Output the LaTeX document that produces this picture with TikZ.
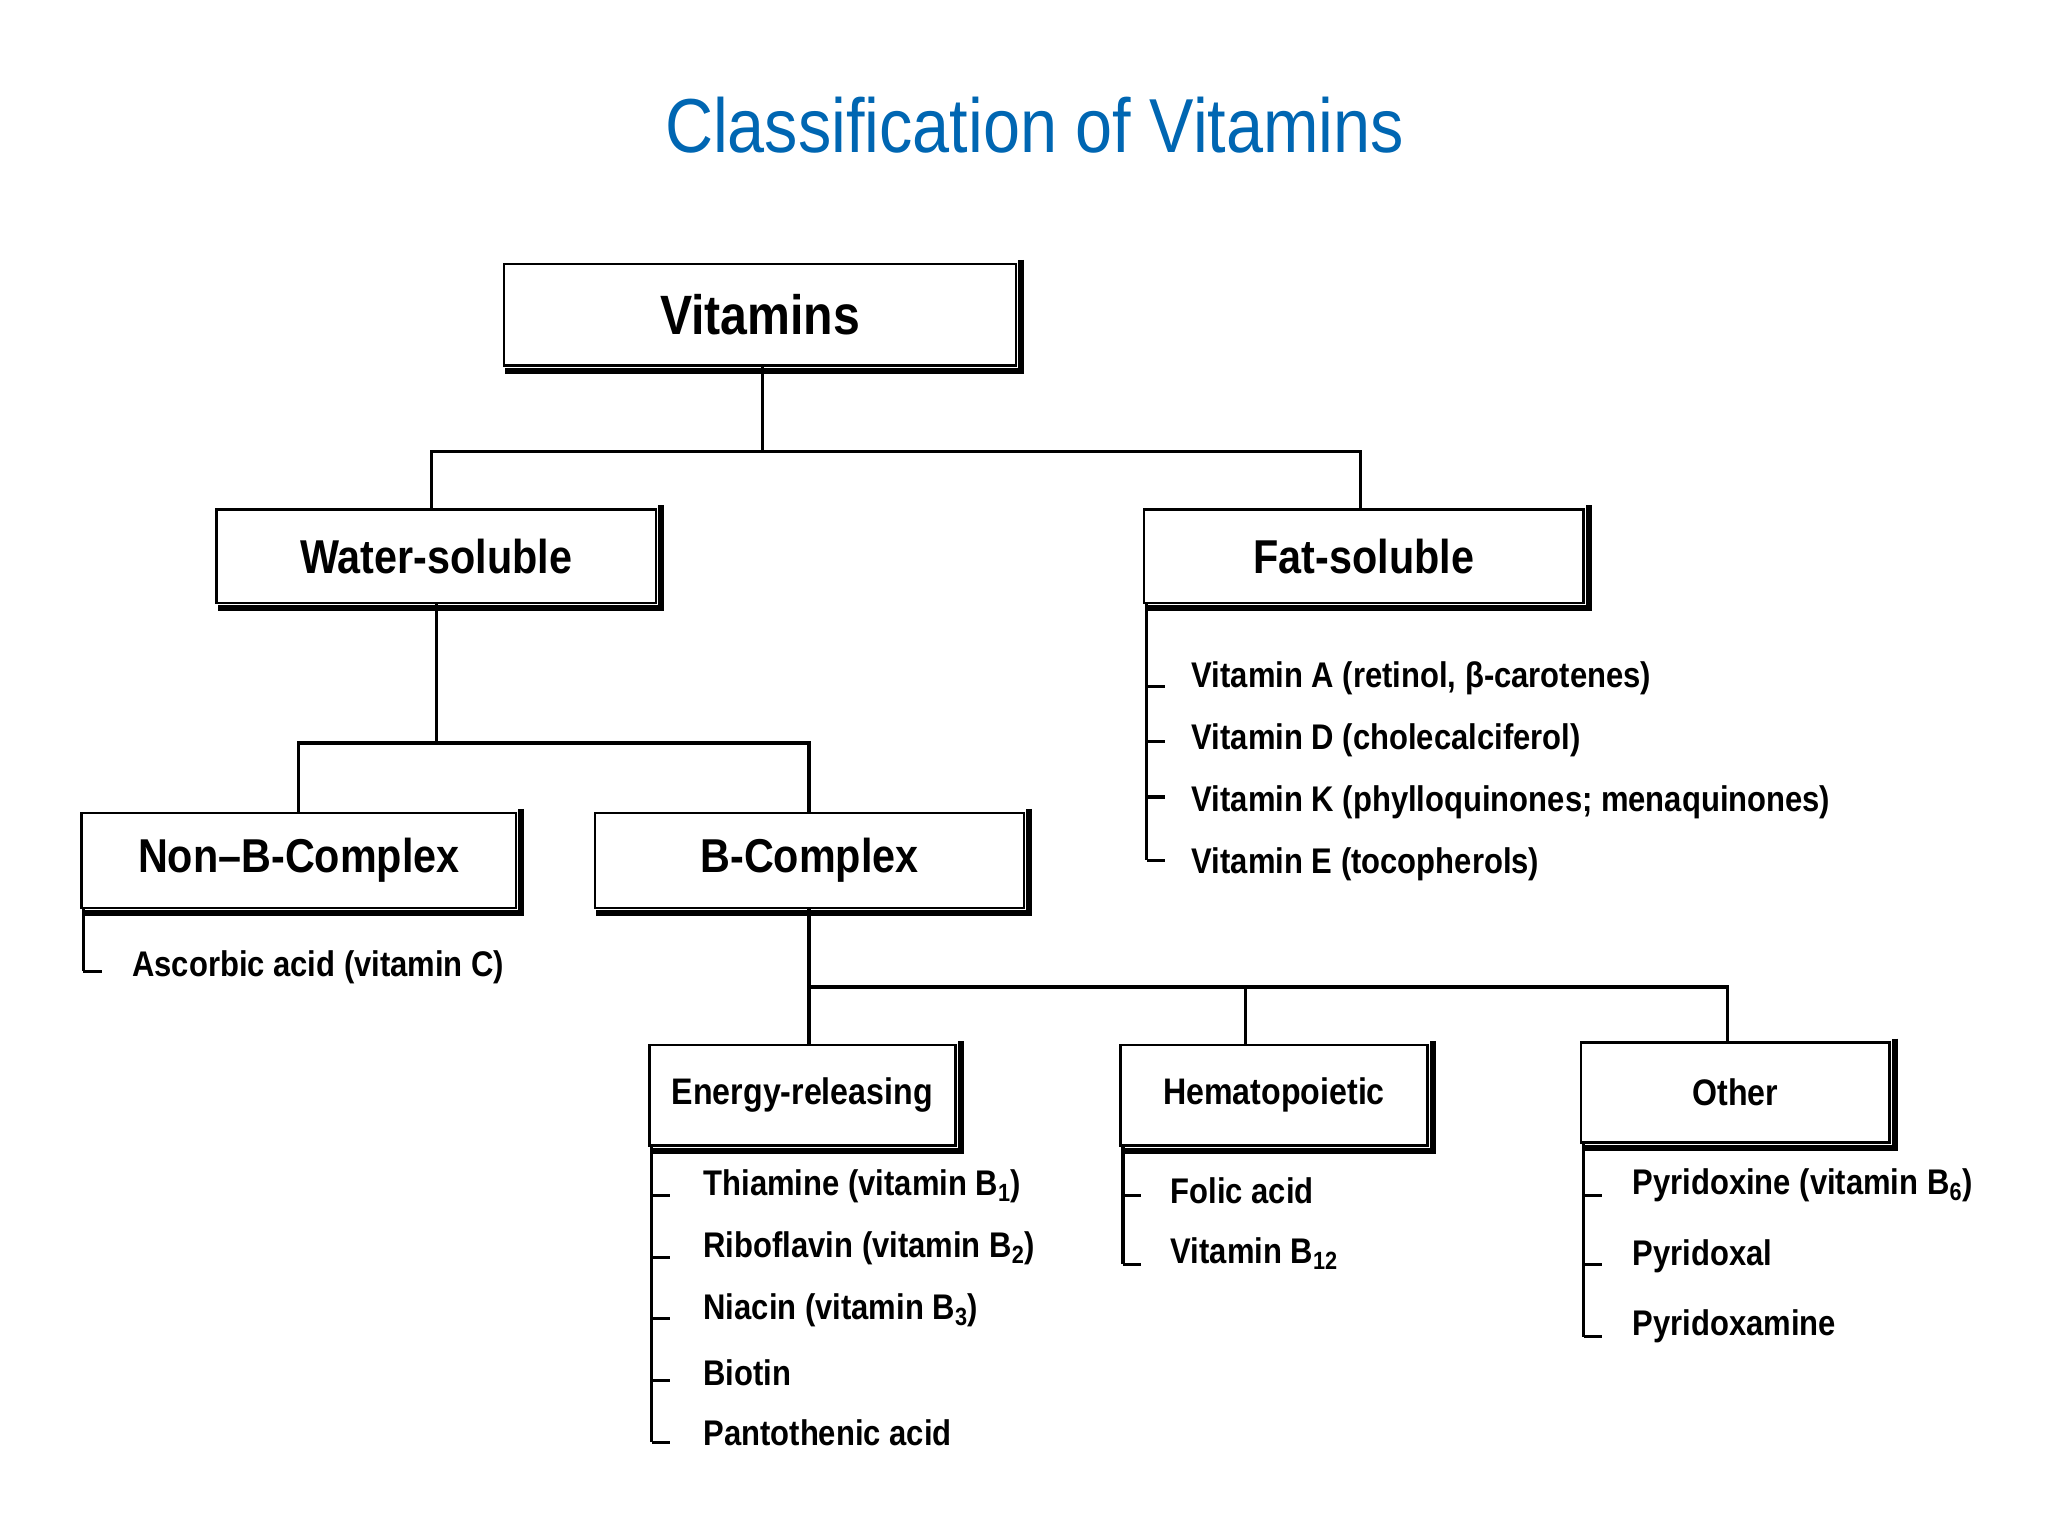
\documentclass[tikz,border=0pt]{standalone}
\usepackage{fontspec}
\setmainfont{Liberation Sans}[FakeStretch=0.87]
\begin{document}
\begin{tikzpicture}[x=1pt,y=-1pt,
  box/.style={draw,line width=2pt,fill=white,inner sep=0pt},
  big/.style={font=\fontsize{36}{40}\selectfont\bfseries},
  vbig/.style={font=\fontsize{42}{46}\selectfont\bfseries},
  mid/.style={font=\fontsize{28}{32}\selectfont\bfseries},
  item/.style={anchor=west,inner sep=0pt,font=\fontsize{27}{30}\selectfont\bfseries},
  ln/.style={line width=2.4pt}]
\useasboundingbox (0,0) rectangle (1552,1164);
\node[font=\fontsize{58}{64}\selectfont,text={rgb,255:red,0;green,102;blue,178}] (title) at (784,95) {Classification of Vitamins};
\newcommand{\bx}[7]{%
  \node[box,#7,minimum width=#4-#2,minimum height=#5-#3] (#1) at ({(#2+#4)/2},{(#3+#5)/2}) {#6};
  \draw[line width=4.5pt] ([xshift=3pt,yshift=2pt]#1.north east) -- ([xshift=3pt,yshift=-3pt]#1.south east) -- ([xshift=2pt,yshift=-3pt]#1.south west);}
\bx{vit}{382}{200}{770}{277}{Vitamins}{vbig}
\bx{ws}{164}{386}{497}{457}{Water-soluble}{big}
\bx{fs}{867}{386}{1200}{457}{Fat-soluble}{big}
\bx{nb}{62}{616}{391}{688}{Non--B-Complex}{big}
\bx{bc}{451}{616}{776}{688}{B-Complex}{big}
\bx{er}{492}{792}{724}{868}{Energy-releasing}{mid}
\bx{he}{849}{792}{1082}{868}{Hematopoietic}{mid}
\bx{ot}{1198}{790}{1432}{866}{Other}{mid}
\coordinate (j1) at (578,342);
\draw[ln] (vit.south -| j1) -- (j1);
\draw[ln] (ws.north -| 327,0) -- (327,342) -- (1031,342) -- (fs.north -| 1031,0);
\draw[ln] (ws.south -| 331,0) -- (331,563);
\draw[ln] (nb.north -| 226,0) -- (226,563) -- (613,563) -- (bc.north -| 613,0);
\draw[ln] (bc.south -| 613,0) -- (613,748) -- (1309,748) -- (ot.north -| 1309,0);
\draw[ln] (613,748) -- (er.north -| 613,0);
\draw[ln] (944,748) -- (he.north -| 944,0);
\newcommand{\lst}[4]{\draw[ln] (#1,#2) -- (#1,#3);
  \foreach \y in {#4} {\draw[ln] (#1,\y) -- (#1+14,\y);}}
\lst{869}{457}{652}{520,562,604,652}
\node[item] (fa) at (903,514) {Vitamin A (retinol, β-carotenes)};
\node[item] (fd) at (903,561) {Vitamin D (cholecalciferol)};
\node[item] (fk) at (903,608) {Vitamin K (phylloquinones; menaquinones)};
\node[item] (fe) at (903,655) {Vitamin E (tocopherols)};
\lst{63}{688}{736}{736}
\node[item] (c) at (100,733) {Ascorbic acid (vitamin C)};
\lst{494}{868}{1093}{906,953,999,1046,1093}
\node[item] (b1) at (533,899) {Thiamine (vitamin B\textsubscript{1})};
\node[item] (b2) at (533,946) {Riboflavin (vitamin B\textsubscript{2})};
\node[item] (b3) at (533,993) {Niacin (vitamin B\textsubscript{3})};
\node[item] (bi) at (533,1040) {Biotin};
\node[item] (pa) at (533,1086) {Pantothenic acid};
\lst{851}{868}{958}{906,958}
\node[item] (fo) at (887,902) {Folic acid};
\node[item] (b12) at (887,950) {Vitamin B\textsubscript{12}};
\lst{1200}{866}{1013}{906,958,1013}
\node[item] (b6) at (1237,898) {Pyridoxine (vitamin B\textsubscript{6})};
\node[item] (pl) at (1237,952) {Pyridoxal};
\node[item] (pm) at (1237,1005) {Pyridoxamine};
\end{tikzpicture}
\end{document}
